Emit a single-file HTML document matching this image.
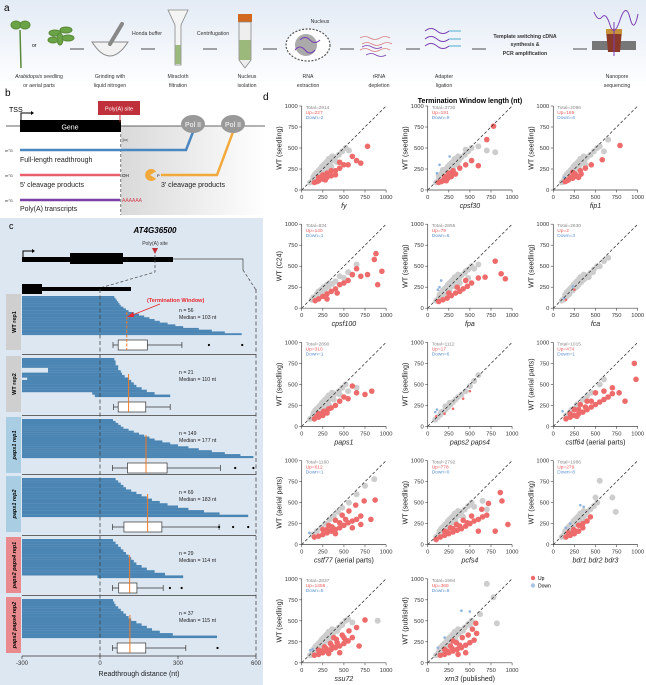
<!DOCTYPE html>
<html><head><meta charset="utf-8"><style>
html,body{margin:0;padding:0;background:#fff;}
svg{display:block;font-family:"Liberation Sans",sans-serif;}
</style></head><body>
<svg id="fig" width="646" height="685" viewBox="0 0 646 685" xmlns="http://www.w3.org/2000/svg">
<defs>
<linearGradient id="ga" x1="0" y1="0" x2="0" y2="1"><stop offset="0" stop-color="#e3ebf5"/><stop offset="1" stop-color="#ffffff"/></linearGradient>
<linearGradient id="gb" x1="0" y1="0" x2="1" y2="0"><stop offset="0" stop-color="#d9d9d9"/><stop offset="1" stop-color="#ffffff"/></linearGradient>
</defs>
<g>
<rect x="0" y="0" width="646" height="88" fill="url(#ga)"/>
<text x="4" y="11" font-size="10">a</text>
<g stroke="#5a8a3a" fill="#6aa446">
<line x1="20" y1="30" x2="21" y2="68" stroke-width="1.5"/><ellipse cx="16" cy="25" rx="5" ry="4"/><ellipse cx="25" cy="25" rx="5" ry="4"/>
<ellipse cx="55" cy="33" rx="6" ry="3"/><ellipse cx="66" cy="30" rx="6" ry="3"/><ellipse cx="60" cy="39" rx="3" ry="6"/><ellipse cx="68" cy="38" rx="6" ry="3"/><ellipse cx="53" cy="40" rx="5" ry="3"/>
</g>
<text x="32" y="47" font-size="5">or</text>
<g>
<path d="M92 42 Q110 70 128 42 Z" fill="#f2f2f2" stroke="#888"/><line x1="110" y1="44" x2="122" y2="24" stroke="#888" stroke-width="4" stroke-linecap="round"/>
</g>
<g>
<path d="M168 10 L188 10 L181 25 L181 65 L175 65 L175 25 Z" fill="#f4f4f4" stroke="#888" stroke-width="0.8"/><rect x="175.5" y="45" width="5" height="19" fill="#9bb97a"/>
</g>
<g>
<rect x="238" y="14" width="14" height="8" fill="#d2691e"/><path d="M239 22 L251 22 L251 60 L245 68 L239 60 Z" fill="#eee" stroke="#888" stroke-width="0.8"/><rect x="239.5" y="40" width="11" height="20" fill="#9bb97a"/>
</g>
<g>
<ellipse cx="308" cy="45" rx="22" ry="16" fill="#fff" stroke="#555" stroke-dasharray="2 1.5" stroke-width="1.2"/><circle cx="306" cy="45" r="11" fill="#aaa"/>
<path d="M295 50 q5 -6 10 0 t10 0 M300 40 q5 -5 10 0 t10 0" stroke="#7b3fb5" fill="none"/>
</g>
<g stroke="#d98080" fill="none" stroke-width="0.8">
<path d="M360 38 q5 -3 10 0 t10 0 t10 0 M362 44 q5 -3 10 0 t10 0 t10 0 M360 50 q5 -3 10 0 t10 0 t10 0"/>
<path d="M362 47 q5 -3 10 0 t10 0 M366 55 q5 -3 10 0 t10 0" stroke="#7b3fb5"/>
</g>
<g stroke-width="1">
<path d="M425 31 q6 -5 12 0 t12 0" stroke="#7b3fb5" fill="none"/><line x1="449" y1="31" x2="461" y2="31" stroke="#9fd0e6" stroke-width="2"/>
<path d="M425 39 q6 -5 12 0 t12 0" stroke="#7b3fb5" fill="none"/><line x1="449" y1="39" x2="461" y2="39" stroke="#9fd0e6" stroke-width="2"/>
<path d="M425 46 q6 -5 12 0 t12 0" stroke="#7b3fb5" fill="none"/><line x1="449" y1="46" x2="461" y2="46" stroke="#9fd0e6" stroke-width="2"/>
</g>
<g>
<rect x="592" y="41" width="44" height="9" fill="#777"/><path d="M606 30 L622 30 L620 52 L608 52 Z" fill="#8b3a2a"/><rect x="606" y="29" width="16" height="5" fill="#c8923a"/>
<path d="M594 12 q4 10 8 5 t8 8 t10 -5 t10 -2 t8 -4" stroke="#7b3fb5" fill="none"/><line x1="614" y1="22" x2="614" y2="56" stroke="#7b3fb5"/>
</g>
<g stroke="#222" stroke-width="0.8">
<line x1="70" y1="49" x2="84" y2="49"/><line x1="141" y1="49" x2="155" y2="49"/><line x1="203" y1="49" x2="217" y2="49"/><line x1="263" y1="49" x2="277" y2="49"/>
<line x1="340" y1="49" x2="354" y2="49"/><line x1="406" y1="49" x2="420" y2="49"/><line x1="472" y1="49" x2="486" y2="49"/><line x1="573" y1="49" x2="587" y2="49"/>
</g>
<g font-size="5.2" fill="#333" text-anchor="middle">
<text x="39" y="78"><tspan font-style="italic">Arabidopsis</tspan> seedling</text><text x="39" y="87">or aerial parts</text>
<text x="110" y="78">Grinding with</text><text x="110" y="87">liquid nitrogen</text>
<text x="178" y="78">Miracloth</text><text x="178" y="87">filtration</text>
<text x="247" y="78">Nucleus</text><text x="247" y="87">isolation</text>
<text x="308" y="78">RNA</text><text x="308" y="87">extraction</text>
<text x="379" y="78">rRNA</text><text x="379" y="87">depletion</text>
<text x="444" y="78">Adapter</text><text x="444" y="87">ligation</text>
<text x="617" y="78">Nanopore</text><text x="617" y="87">sequencing</text>
<text x="147" y="35">Honda buffer</text><text x="213" y="35">Centrifugation</text><text x="320" y="23">Nucleus</text>
<text x="525" y="38" font-weight="bold">Template switching cDNA</text><text x="525" y="46" font-weight="bold">synthesis &amp;</text><text x="525" y="55" font-weight="bold">PCR amplification</text>
</g>
</g>
<g>
<text x="5" y="96" font-size="10">b</text>
<rect x="121" y="126" width="144" height="89" fill="url(#gb)"/>
<line x1="6" y1="126" x2="265" y2="126" stroke="#333" stroke-width="0.8"/>
<text x="9" y="112" font-size="7">TSS</text>
<path d="M21 121 L21 113 L32 113" stroke="#000" fill="none"/><path d="M31 111 L34 113 L31 115 Z"/>
<rect x="20" y="120" width="101" height="12" fill="#000"/>
<text x="70" y="129.5" font-size="7" fill="#fff" text-anchor="middle">Gene</text>
<rect x="98" y="101" width="42" height="14" fill="#c0303a"/>
<text x="119" y="110.5" font-size="5.5" fill="#fff" text-anchor="middle">Poly(A) site</text>
<line x1="120" y1="115" x2="120" y2="122" stroke="#c0303a"/>
<line x1="120.7" y1="134" x2="120.7" y2="215" stroke="#777" stroke-dasharray="3 2"/>
<text x="122" y="143" font-size="8" fill="#666">✂</text>
<path d="M20 150 L186 150 L193 132" stroke="#4a86c0" stroke-width="2.5" fill="none"/>
<path d="M161 175 L217 175 L233 132" stroke="#f2a93b" stroke-width="2.5" fill="none"/>
<ellipse cx="193" cy="124" rx="12" ry="9" fill="#999"/><text x="193" y="127" font-size="7" fill="#fff" text-anchor="middle">Pol II</text>
<ellipse cx="233" cy="124" rx="12" ry="9" fill="#999"/><text x="233" y="127" font-size="7" fill="#fff" text-anchor="middle">Pol II</text>
<line x1="20" y1="175" x2="120" y2="175" stroke="#e8606e" stroke-width="2.5"/>
<line x1="20" y1="200" x2="120" y2="200" stroke="#7b3fa5" stroke-width="2.5"/>
<g font-size="4" fill="#333"><text x="5" y="152">m⁷G</text><text x="5" y="177">m⁷G</text><text x="5" y="202">m⁷G</text></g>
<g font-size="7" fill="#222"><text x="20" y="162">Full-length readthrough</text><text x="20" y="187">5′ cleavage products</text><text x="20" y="211">Poly(A) transcripts</text><text x="161" y="187">3′ cleavage products</text></g>
<text x="122" y="177" font-size="4.5">OH</text><text x="122" y="202" font-size="5" fill="#d04050">AAAAAA</text>
<path d="M150 175 L156 171.5 A6 6 0 1 0 156 178.5 Z" fill="#f2a93b"/><text x="157" y="177" font-size="4">P</text>
</g>
<g id="panelC">
<rect x="0" y="218" width="263" height="467" fill="#dde7f2"/>
<text x="9" y="229" font-size="9">c</text>
<text x="155" y="233" font-size="8" font-weight="bold" font-style="italic" text-anchor="middle">AT4G36500</text>
<text x="155" y="245" font-size="5" text-anchor="middle" fill="#333">Poly(A) site</text>
<path d="M152 248 L158 248 L155 254 Z" fill="#c0303a"/>
<path d="M23 259 L23 251 L33 251" stroke="#000" fill="none"/><path d="M32 249 L35 251 L32 253 Z"/>
<rect x="22" y="257" width="151" height="5" fill="#000"/>
<rect x="70" y="253" width="53" height="11" fill="#000"/>
<path d="M173 259 L243 259 L243 270" stroke="#444" fill="none" stroke-width="0.7"/>
<path d="M155 255 L155 272 L100 288" stroke="#555" fill="none" stroke-dasharray="3 2" stroke-width="0.8"/>
<path d="M243 270 L256 290" stroke="#555" fill="none" stroke-dasharray="3 2" stroke-width="0.8"/>
<rect x="22" y="284" width="20" height="10" fill="#000"/><rect x="42" y="287" width="89" height="4" fill="#000"/>
<g id="cRows"></g>
</g>
<g id="panelD">
<text x="263" y="100" font-size="10">d</text>
<text x="470" y="103" font-size="7" font-weight="bold" text-anchor="middle">Termination Window length (nt)</text>
<g>
<circle cx="533" cy="578" r="2.2" fill="#ee6b6b"/><text x="538" y="580" font-size="5">Up</text>
<circle cx="533" cy="585.5" r="2.2" fill="#a9c4e4"/><text x="538" y="587.5" font-size="5">Down</text>
</g>
</g>
</svg>
<script>
const cRowNames = ["WT rep1","WT rep2","paps1 rep1","paps1 rep2","paps2 paps4 rep1","paps2 paps4 rep2"];
const cCounts = [56,21,149,69,29,37];
const cMedians = [103,110,177,183,114,115];
const cBoxQ1 = [70,70,106,92,72,66];
const cBoxQ3 = [182,176,258,238,142,176];
const cWhiskLo = [50,52,48,48,48,48];
const cWhiskHi = [315,270,463,458,243,330];
const cOutliers = [[419,547],[],[520,590],[458,512,570],[269,314],[452]];
const cReadEnds = [
 [55,60,65,70,75,80,90,100,110,130,150,170,190,210,230,260,290,320,380,430,480,545],
 [55,60,60,70,70,80,85,95,110,120,130,140,160,180,210,270],
 [50,60,70,80,90,110,130,150,170,190,210,240,270,300,340,380,430,480,540,590],
 [60,70,80,90,100,120,140,160,180,200,230,260,300,340,400,460,570],
 [50,60,70,80,90,100,110,120,130,140,160,180,210,250,320],
 [50,55,60,70,80,90,100,110,120,140,160,180,200,230,280,450]
];
const cReadStarts = [
 [-300,-300,-300,-300,-300,-300,-300,-300,-300,-300,-300,-300,-300,-300,-300,-300,-300,-300,-300,-300,-300,-300],
 [-300,-300,-300,-300,-200,-200,-300,-300,-280,-300,-300,-300,-300,-300,-30,-20],
 [-300,-300,-300,-300,-300,-300,-300,-300,-300,-300,-300,-300,-300,-300,-300,-300,-300,-300,-300,-300],
 [-300,-300,-300,-300,-300,-300,-300,-300,-300,-300,-300,-300,-300,-300,-300,-300,-300],
 [-300,-300,-300,-300,-300,-300,-300,-300,-300,-300,-300,-300,-300,-300,-10],
 [-300,-300,-300,-300,-300,-300,-300,-300,-300,-300,-300,-300,-300,-300,-300,-300]
];
const cTicks = [-300,0,300,600];
const cLabelColors = ["#cfcfcf","#cfcfcf","#a9cde2","#a9cde2","#e98a8e","#e98a8e"];
const dTitlesX = ["fy","cpsf30","fip1","cpsf100","fpa","fca","paps1","paps2 paps4","cstf64|(aerial parts)","cstf77|(aerial parts)","pcfs4","bdr1 bdr2 bdr3","ssu72","xrn3|(published)"];
const dTitlesY = ["seedling","seedling","seedling","C24","seedling","seedling","seedling","seedling","aerial parts","aerial parts","seedling","seedling","seedling","published"];
const dTotal = [2914,3730,2096,834,2855,2630,2890,1112,1015,1160,2792,1986,2837,1994];
const dUp = [227,191,169,140,79,2,310,17,474,612,778,279,1456,369];
const dDown = [2,9,6,1,6,3,1,6,1,1,0,8,5,8];
const dTicks = [0,250,500,750,1000];
const gDiag = [[100,90],[130,120],[160,150],[190,170],[220,210],[250,240],[280,260],[310,300],[340,330],[370,350],[400,390],[440,420],[160,190],[200,230],[240,280],[280,320],[320,370],[360,400],[480,460],[520,500],[140,160],[180,210],[220,250],[260,300],[300,340],[120,100],[150,130],[200,190],[230,230],[270,280]];
const dGrey = [
 gDiag.concat([[200,160],[250,200],[300,240],[350,280],[420,330],[560,470]]),
 gDiag.concat([[200,160],[250,210],[300,250],[350,300],[130,170],[180,240],[600,520],[700,470],[800,450],[450,480]]),
 gDiag.concat([[200,160],[250,200],[300,260],[380,300],[550,520],[600,460],[650,600]]),
 [[120,100],[160,130],[200,170],[240,200],[280,230],[320,260],[360,290],[180,170],[230,220],[300,280],[400,320],[450,380],[550,430],[650,520],[500,360],[600,400],[140,130],[200,200],[260,250],[330,300]],
 gDiag.concat([[200,170],[260,210],[320,260],[380,300],[450,440],[550,470],[600,520],[480,360]]),
 gDiag.concat([[180,160],[230,210],[270,250],[300,280],[330,310],[360,340],[420,370],[470,430],[550,500],[600,560],[650,600]]),
 gDiag.concat([[200,170],[260,210],[320,260],[380,320],[450,380],[550,420],[650,460]]),
 [[90,80],[120,110],[150,140],[180,170],[210,200],[240,230],[270,260],[300,290],[330,320],[360,350],[400,380],[450,420],[500,480],[550,540],[600,610],[160,170],[210,240],[260,280]],
 [[150,130],[200,170],[250,210],[300,250],[220,200],[280,260],[350,320],[400,360],[450,400],[550,500],[600,560]],
 [[130,120],[180,160],[230,200],[280,250],[330,300],[380,340],[430,390],[480,440],[560,500],[650,600],[750,700],[860,780]],
 gDiag.concat([[200,170],[260,220],[330,270],[420,330],[550,450],[700,420],[650,520]]),
 gDiag.concat([[180,180],[220,230],[300,320],[350,300],[500,560],[550,760],[700,560],[740,390]]),
 gDiag.concat([[200,170],[260,220],[330,270],[420,380],[480,450],[550,520],[600,480],[900,500]]),
 gDiag.concat([[200,170],[260,220],[330,270],[420,380],[500,450],[620,580],[700,940],[820,470],[780,780]])
];
const dRed = [
 [[150,90],[200,110],[250,130],[300,150],[350,170],[200,150],[250,180],[300,200],[350,230],[400,230],[450,260],[500,300],[550,300],[650,350],[700,320],[780,520],[600,400],[400,180],[280,120],[180,100],[320,180],[450,330],[220,130],[270,160],[330,200]],
 [[130,90],[180,110],[230,130],[280,160],[330,190],[200,160],[250,200],[300,230],[380,260],[450,300],[520,350],[600,290],[700,600],[780,760],[220,110],[300,200],[160,100],[250,150]],
 [[140,100],[180,120],[230,140],[280,160],[330,190],[200,150],[260,190],[320,230],[380,260],[450,300],[580,360],[790,530],[230,210],[300,150],[160,110],[250,170]],
 [[160,90],[200,110],[250,140],[300,170],[350,200],[400,230],[450,280],[500,300],[550,330],[600,400],[650,470],[700,380],[780,400],[900,280],[860,580],[950,440],[880,650],[300,110],[420,180]],
 [[130,80],[180,100],[230,120],[280,150],[330,180],[380,200],[420,230],[470,260],[520,300],[600,360],[680,370],[800,560],[870,410],[920,350],[250,180],[350,250],[450,330]],
 [[250,220],[150,100]],
 [[150,90],[200,110],[250,130],[300,160],[200,150],[260,180],[320,210],[400,250],[450,300],[500,350],[550,330],[650,400],[750,380],[830,420],[600,480],[350,220],[180,120],[230,150],[280,180]],
 [[100,120],[200,150],[300,210],[420,330],[500,420]],
 [[150,90],[200,110],[250,130],[300,150],[350,170],[400,200],[450,230],[500,260],[550,290],[600,320],[650,350],[700,390],[250,200],[320,260],[400,300],[500,400],[600,420],[700,460],[780,400],[960,750],[980,560],[850,300],[200,150],[300,200],[280,120],[380,230],[450,300]],
 [[150,90],[200,100],[250,120],[300,140],[350,160],[400,180],[450,200],[500,230],[550,260],[600,280],[650,300],[700,340],[250,180],[320,230],[400,290],[480,350],[560,400],[640,470],[740,520],[870,530],[820,300],[700,240],[600,200],[400,130],[300,180],[360,210],[450,260],[520,300]],
 [[100,60],[150,90],[200,110],[250,130],[300,150],[350,170],[400,190],[450,220],[500,250],[550,280],[600,300],[650,330],[700,350],[200,160],[270,200],[340,240],[420,290],[520,340],[640,420],[720,490],[860,620],[880,520],[950,240],[800,160],[600,160],[230,150],[300,190],[380,220],[470,260]],
 [[150,90],[200,110],[250,130],[300,160],[350,200],[180,140],[240,180],[300,230],[350,250],[400,280],[440,330],[220,130],[270,160]],
 [[150,90],[200,100],[250,120],[300,140],[350,160],[400,180],[450,200],[500,230],[550,260],[600,300],[200,150],[270,190],[340,230],[410,280],[480,330],[560,380],[650,420],[750,510],[680,200],[450,120],[320,110],[380,300],[500,300],[230,140],[290,170],[360,200],[420,240],[520,270]],
 [[150,90],[200,100],[250,120],[300,140],[350,160],[400,180],[450,210],[500,240],[550,270],[580,350],[200,160],[270,200],[340,240],[410,300],[480,330],[530,400],[570,470],[450,120],[360,100],[300,260],[230,140],[290,170],[380,210]]
];
const dBlue = [[],[[140,300],[110,200],[260,400]],[[130,150]],[],[[160,330],[120,220],[140,250]],[[230,260],[130,120]],[],[[110,200],[90,170]],[[110,180]],[[90,140]],[],[[320,470],[360,450],[200,250],[150,200]],[[100,150],[130,160]],[[400,620],[200,300],[120,180],[500,610]]];

const NS = "http://www.w3.org/2000/svg";
function mk(parent, tag, attrs, text){const e=document.createElementNS(NS,tag);for(const k in attrs)e.setAttribute(k,attrs[k]);if(text!==undefined)e.textContent=text;parent.appendChild(e);return e;}

const cx0 = 22, cx1 = 256;
function cX(v){return cx0 + (v - cTicks[0])/(cTicks[cTicks.length-1]-cTicks[0])*(cx1-cx0);}
const cRowTop = [294,356,417,476,537,597];
const cRowH = 56;
const cRows = document.getElementById('cRows');
cRowNames.forEach((name,i)=>{
  const g = mk(cRows,'g',{});
  
  
  const top = cRowTop[i];
  const lab = mk(g,'rect',{x:6,y:top,width:15,height:cRowH,fill:cLabelColors[i]});
  
  
  const t = mk(g,'text',{x:0,y:0,'font-size':5.5,'font-weight':'bold','text-anchor':'middle',transform:`translate(16,${top+cRowH/2}) rotate(-90)`,'font-style':i>=2?'italic':'normal'},name);
  
  
  if(i>0){const sep=mk(g,'line',{x1:22,x2:256,y1:top-1.5,y2:top-1.5,stroke:'#666','stroke-width':1});
    
    }
  const ends = cReadEnds[i], starts = cReadStarts[i];
  const barTop = top+2, barBot = top+41;
  const h = (barBot-barTop)/ends.length;
  ends.forEach((e,j)=>{
    const r = mk(g,'rect',{x:cX(starts[j]),y:barTop+j*h,width:cX(e)-cX(starts[j]),height:h+0.1,fill:'#4a85b4'});
    
    
  });
  const by = top+51;
  const wl = mk(g,'line',{x1:cX(cWhiskLo[i]),x2:cX(cWhiskHi[i]),y1:by,y2:by,stroke:'#333','stroke-width':0.7});
  
  
  [cWhiskLo[i],cWhiskHi[i]].forEach(v=>{const c=mk(g,'line',{x1:cX(v),x2:cX(v),y1:by-3,y2:by+3,stroke:'#333','stroke-width':0.7});
    
    });
  const bx = mk(g,'rect',{x:cX(cBoxQ1[i]),y:by-5,width:cX(cBoxQ3[i])-cX(cBoxQ1[i]),height:10,fill:'#fff',stroke:'#333','stroke-width':0.7});
  
  
  cOutliers[i].forEach(v=>{const o=mk(g,'circle',{cx:cX(v),cy:by,r:1.1,fill:'#000'});
    
    });
  const med = mk(g,'line',{x1:cX(cMedians[i]),x2:cX(cMedians[i]),y1:top+18,y2:by+5,stroke:'#f07a24','stroke-width':1,'stroke-dasharray':i===0?'3 1.5':'none'});
  
  
  const n = mk(g,'text',{x:179,y:top+18,'font-size':5.2,fill:'#222'},'n = '+cCounts[i]);
  
  
  const m = mk(g,'text',{x:179,y:top+25,'font-size':5.2,fill:'#222'},'Median = '+cMedians[i]+' nt');
  
  
});
const tw = mk(cRows,'text',{x:147,y:302,'font-size':5.5,fill:'#e8282c','font-weight':'bold'},'(Termination Window)');


mk(cRows,'path',{d:'M160 304 L130 316',stroke:'#e8282c','stroke-width':0.8,fill:'none'});
mk(cRows,'path',{d:'M127 317 L133 312 L134 317 Z',fill:'#e8282c'});
[0,600].forEach(v=>{const l=mk(cRows,'line',{x1:cX(v),x2:cX(v),y1:289,y2:656,stroke:'#444','stroke-width':0.8,'stroke-dasharray':'4 2.5'});
  
  });
const cax = mk(cRows,'line',{x1:cx0,x2:cx1,y1:656,y2:656,stroke:'#333','stroke-width':0.8});


cTicks.forEach(v=>{mk(cRows,'line',{x1:cX(v),x2:cX(v),y1:656,y2:659,stroke:'#333','stroke-width':0.7});
  const t=mk(cRows,'text',{x:cX(v),y:665,'font-size':6,'text-anchor':'middle',fill:'#333'},String(v));
  
  });
const cxt = mk(cRows,'text',{x:139,y:676,'font-size':7,'text-anchor':'middle',fill:'#222'},'Readthrough distance (nt)');



const pD = document.getElementById('panelD');
const colX = [301.7,427.7,553.3], pw = 84.4, ph = 84, rowBase = 190, rowStep = 118.2;
dTitlesX.forEach((xt,k)=>{
  const col = k%3, row = Math.floor(k/3);
  const x0 = colX[col], y0 = rowBase + row*rowStep;
  const sx = v=> x0 + v/1000*pw, sy = v=> y0 - v/1000*ph;
  const g = mk(pD,'g',{});
  
  
  dGrey[k].forEach(p=>{const c=mk(g,'circle',{cx:sx(p[0]),cy:sy(p[1]),r:3,fill:'#cdcdcd'});
    
    });
  dBlue[k].forEach(p=>{const c=mk(g,'circle',{cx:sx(p[0]),cy:sy(p[1]),r:1.3,fill:'#8fb3dc'});
    
    });
  dRed[k].forEach(p=>{const c=mk(g,'circle',{cx:sx(p[0]),cy:sy(p[1]),r:k===5||k===7?1.3:2.8,fill:'#ee6b6b'});
    
    });
  const d = mk(g,'line',{x1:sx(0),y1:sy(0),x2:sx(1000),y2:sy(1000),stroke:'#222','stroke-width':0.7,'stroke-dasharray':'3 2'});
  
  
  const ax = mk(g,'path',{d:`M${x0} ${y0-ph} L${x0} ${y0} L${x0+pw} ${y0}`,stroke:'#444','stroke-width':0.7,fill:'none'});
  
  
  dTicks.forEach(v=>{
    mk(g,'line',{x1:sx(v),x2:sx(v),y1:y0,y2:y0+2.5,stroke:'#444','stroke-width':0.6});
    mk(g,'line',{x1:x0-2.5,x2:x0,y1:sy(v),y2:sy(v),stroke:'#444','stroke-width':0.6});
    const tx = mk(g,'text',{x:sx(v),y:y0+9,'font-size':5.8,'text-anchor':'middle',fill:'#333'},String(v));
    
    
    const ty = mk(g,'text',{x:x0-4,y:sy(v)+2,'font-size':5.8,'text-anchor':'end',fill:'#333'},String(v));
    
    
  });
  const parts = xt.split('|');
  const xl = mk(g,'text',{x:x0+pw/2,y:y0+18,'font-size':7,'text-anchor':'middle',fill:'#222'});
  
  
  mk(xl,'tspan',{'font-style':'italic'},parts[0]);
  if(parts[1]) mk(xl,'tspan',{},' '+parts[1]);
  const yl = mk(g,'text',{x:0,y:0,'font-size':7,'text-anchor':'middle',fill:'#222',transform:`translate(${x0-20},${y0-ph/2}) rotate(-90)`},'WT ('+dTitlesY[k]+')');
  
  
  const t1 = mk(g,'text',{x:x0+4,y:y0-ph+3,'font-size':4.8,fill:'#888'},'Total='+dTotal[k]);
  
  
  const t2 = mk(g,'text',{x:x0+4,y:y0-ph+8,'font-size':4.8,fill:'#ee5b5b'},'Up='+dUp[k]);
  
  
  const t3 = mk(g,'text',{x:x0+4,y:y0-ph+13,'font-size':4.8,fill:'#5b90d0'},'Down='+dDown[k]);
  
  
});
</script>
</body></html>
